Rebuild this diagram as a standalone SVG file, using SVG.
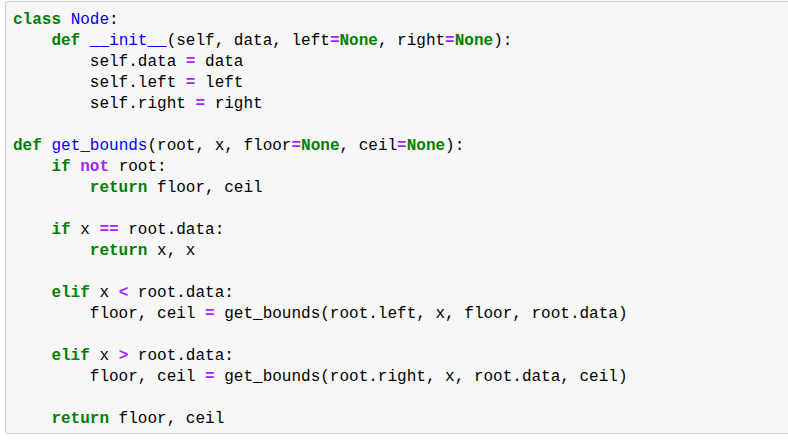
<svg xmlns="http://www.w3.org/2000/svg" width="788" height="442" viewBox="0 0 788 442">
<style>
text{font-family:"Liberation Mono",monospace;font-size:16px;fill:#000;white-space:pre}
.k{fill:#008000;font-weight:bold}
.o{fill:#aa22ff;font-weight:bold}
.n{fill:#0000ff}
</style>
<rect width="788" height="442" fill="#fff"/>
<rect x="5.5" y="1.5" width="790" height="432" rx="2" fill="#f7f7f7" stroke="#cfcfcf"/>
<g id="code" xml:space="preserve">
<text x="13" y="24"><tspan class="k">class</tspan> <tspan class="n">Node</tspan>:</text>
<text x="13" y="45">    <tspan class="k">def</tspan> <tspan class="n">__init__</tspan>(self, data, left<tspan class="o">=</tspan><tspan class="k">None</tspan>, right<tspan class="o">=</tspan><tspan class="k">None</tspan>):</text>
<text x="13" y="66">        self.data <tspan class="o">=</tspan> data</text>
<text x="13" y="87">        self.left <tspan class="o">=</tspan> left</text>
<text x="13" y="108">        self.right <tspan class="o">=</tspan> right</text>
<text x="13" y="150"><tspan class="k">def</tspan> <tspan class="n">get_bounds</tspan>(root, x, floor<tspan class="o">=</tspan><tspan class="k">None</tspan>, ceil<tspan class="o">=</tspan><tspan class="k">None</tspan>):</text>
<text x="13" y="171">    <tspan class="k">if</tspan> <tspan class="o">not</tspan> root:</text>
<text x="13" y="192">        <tspan class="k">return</tspan> floor, ceil</text>
<text x="13" y="234">    <tspan class="k">if</tspan> x <tspan class="o">==</tspan> root.data:</text>
<text x="13" y="255">        <tspan class="k">return</tspan> x, x</text>
<text x="13" y="297">    <tspan class="k">elif</tspan> x <tspan class="o">&lt;</tspan> root.data:</text>
<text x="13" y="318">        floor, ceil <tspan class="o">=</tspan> get_bounds(root.left, x, floor, root.data)</text>
<text x="13" y="360">    <tspan class="k">elif</tspan> x <tspan class="o">&gt;</tspan> root.data:</text>
<text x="13" y="381">        floor, ceil <tspan class="o">=</tspan> get_bounds(root.right, x, root.data, ceil)</text>
<text x="13" y="423">    <tspan class="k">return</tspan> floor, ceil</text>
</g>
</svg>
